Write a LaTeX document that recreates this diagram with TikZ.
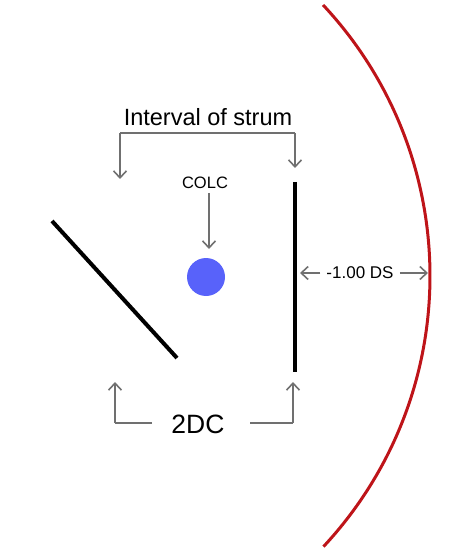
\documentclass[tikz,border=0pt]{standalone}
\usepackage{fontspec}
\setmainfont{Liberation Sans}
\usetikzlibrary{arrows.meta}
\definecolor{arcred}{RGB}{190,20,25}
\definecolor{dotblue}{RGB}{88,98,250}
\definecolor{guide}{RGB}{112,112,112}
\begin{document}
\begin{tikzpicture}[x=1pt,y=-1pt,
  guideline/.style={draw=guide,line width=1.6pt},
  guidearrow/.style={guideline,-{Straight Barb[length=7pt,width=13pt,line width=1.6pt]}},
  lensline/.style={draw=black,line width=4pt},
  lbl/.style={inner sep=0pt,text=black}]
\useasboundingbox (0,0) rectangle (474,553);
% red arc
\draw[arcred,line width=3pt] (33,276) ++(-43.06:397) arc[start angle=-43.06,end angle=42.97,radius=397];
% lenses
\coordinate (d1) at (52,221);
\coordinate (d2) at (177,358);
\draw[lensline] (d1) -- (d2);
\coordinate (v1) at (295,182);
\coordinate (v2) at (295,372);
\draw[lensline] (v1) -- (v2);
% blue dot
\node[circle,fill=dotblue,minimum size=38pt,inner sep=0pt] (dot) at (206,277) {};
% Interval of strum
\node[lbl,font=\fontsize{23.5}{28}\selectfont] (ios) at (208,117) {Interval of strum};
\coordinate (bl) at (120,133);
\coordinate (br) at (295,133);
\coordinate (blend) at (120,179);
\coordinate (brend) at (295,168);
\draw[guideline] (bl) -- (br);
\draw[guidearrow] (bl) -- (blend);
\draw[guidearrow] (br) -- (brend);
% COLC
\node[lbl,font=\fontsize{16.5}{20}\selectfont] (colc) at (205,183) {COLC};
\coordinate (colcend) at (209,249);
\draw[guidearrow] (209,193) -- (colcend);
% -1.00 DS
\node[lbl,font=\fontsize{17}{20}\selectfont] (ds) at (360,273) {-1.00 DS};
\coordinate (dsl) at (300,273);
\coordinate (dsr) at (428,273);
\draw[guidearrow] (ds.west) ++(-6,0) -- (dsl);
\draw[guidearrow] (ds.east) ++(6,0) -- (dsr);
% 2DC
\node[lbl,font=\fontsize{26.5}{30}\selectfont] (tdc) at (198,424) {2DC};
\coordinate (ll) at (115,423);
\coordinate (lr) at (293,423);
\coordinate (llend) at (115,382);
\coordinate (lrend) at (293,382);
\draw[guideline] (152,423) -- (ll);
\draw[guidearrow] (ll) -- (llend);
\draw[guideline] (250,423) -- (lr);
\draw[guidearrow] (lr) -- (lrend);
\end{tikzpicture}
\end{document}
